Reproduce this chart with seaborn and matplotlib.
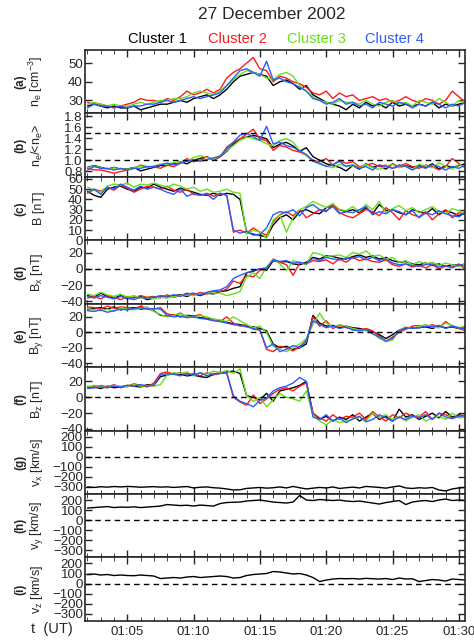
import numpy as np
import pandas as pd
import seaborn as sns
import matplotlib.pyplot as plt
from matplotlib.ticker import MultipleLocator

# time in minutes after 01:00 UT, 0.5 min steps
t = np.arange(2.0, 30.75, 0.5)
clusters = ['Cluster 1', 'Cluster 2', 'Cluster 3', 'Cluster 4']
colors = ['black', '#ff1a1a', '#66e01a', '#2a5cff']

ne_c1 = [27,28,27,26,27,26,26,27,25,26, 27,28,28,29,30,29,31,32,33,31,
         33,36,40,43,44,45,44,43,38,40, 41,39,36,38,33,31,29,28,27,25,
         28,26,29,27,28,26,29,27,28,27, 28,27,29,26,28,27,28,29]
ne_c2 = [29,28,28,27,26,27,28,29,31,30, 30,29,31,30,32,35,33,34,36,34,
         36,42,45,47,50,53,47,46,40,43, 42,40,39,37,34,33,35,31,34,32,
         33,30,31,32,30,31,29,30,32,30, 29,31,30,28,30,35,32,29]
ne_c3 = [28,29,28,27,28,27,27,28,29,28, 29,30,30,31,31,32,34,35,34,33,
         35,38,41,44,46,45,44,42,41,44, 45,43,38,35,32,30,29,28,30,29,
         29,28,30,28,27,29,30,28,29,27, 30,29,28,31,29,27,30,28]
ne_c4 = [26,28,27,27,26,27,26,27,27,28, 28,29,30,29,30,31,32,31,32,33,
         34,38,42,46,47,45,43,51,41,42, 40,39,37,35,31,30,28,29,31,28,
         29,27,28,26,29,28,27,29,28,26, 28,27,29,28,26,28,27,29]

b_c1 = [48,44,42,50,52,53,50,48,52,51, 55,52,50,48,51,49,47,45,44,46,
        44,46,45,40,8,6,5,3,15,22, 25,20,28,30,27,26,32,34,30,28,
        30,27,32,26,35,29,30,27,25,30, 28,26,31,25,29,27,24,28]
b_c2 = [46,50,48,52,49,54,51,47,50,53, 52,50,53,49,47,50,45,44,46,43,
        46,44,8,10,7,12,8,5,18,25, 28,24,30,22,26,30,28,35,27,24,
        22,26,30,28,24,32,27,20,29,25, 23,28,20,26,30,22,27,25]
b_c3 = [52,49,47,53,55,54,56,52,55,54, 56,54,52,55,53,50,52,48,50,47,
        48,50,47,46,6,10,8,2,20,25, 8,22,30,33,38,35,32,36,30,29,
        33,28,35,30,38,27,31,34,29,32, 27,30,33,28,26,31,29,27]
b_c4 = [47,50,45,52,50,55,52,49,53,50, 52,50,47,45,50,43,46,44,45,40,
        46,44,10,7,9,5,6,12,25,28, 27,30,24,32,35,30,29,33,26,28,
        27,30,33,25,28,26,30,28,25,29, 22,27,25,29,26,24,23,27]

bx_c1 = [-33,-35,-30,-34,-36,-33,-37,-35,-34,-38, -36,-34,-35,-33,-32,-34,-31,-33,-30,-31,
         -28,-27,-24,-22,-5,-3,0,-2,10,8, 9,6,5,8,14,12,16,15,13,12,
         15,17,14,16,12,14,10,8,9,6, 5,7,4,6,3,5,4,6]
bx_c2 = [-36,-34,-37,-33,-35,-38,-34,-36,-33,-35, -34,-36,-32,-35,-33,-30,-32,-29,-31,-28,
         -28,-25,-15,-18,-8,-10,-2,0,12,8, 5,-8,7,6,10,9,11,6,12,8,
         14,10,12,9,8,11,5,3,6,2, 4,1,5,0,3,2,6,-1]
bx_c3 = [-31,-33,-29,-32,-34,-31,-35,-33,-36,-35, -37,-35,-36,-34,-33,-32,-33,-31,-29,-30,
         -30,-33,-31,-28,-10,-5,-12,2,12,6, -2,10,8,5,20,18,15,16,17,14,
         20,18,22,15,17,12,14,8,10,5, 9,6,8,4,7,5,3,6]
bx_c4 = [-34,-36,-33,-35,-37,-34,-36,-38,-35,-36, -35,-33,-34,-32,-34,-31,-30,-32,-29,-27,
         -26,-22,-12,-8,-5,-2,0,1,11,9, 10,7,8,6,13,10,14,12,11,13,
         13,15,11,14,10,12,7,5,6,4, 3,5,6,2,4,1,5,3]

by_c1 = [30,31,32,30,33,29,31,32,30,31, 28,22,21,23,20,22,21,19,18,17,
         15,13,11,10,8,7,5,2,-15,-20, -18,-22,-20,-15,22,12,8,9,6,8,
         6,5,3,1,-3,-8,-3,3,5,6, 6,7,5,8,6,7,5,6]
by_c2 = [33,32,30,34,31,33,32,30,34,31, 30,32,24,22,25,20,21,23,17,16,
         14,20,12,8,10,4,3,-22,-25,-18, -20,-24,-18,-12,20,8,15,5,9,6,
         4,3,5,2,-5,-12,-6,0,4,8, 9,7,10,6,14,8,5,2]
by_c3 = [31,29,28,30,27,32,30,29,31,33, 27,23,20,22,24,21,19,22,20,17,
         16,14,20,15,10,6,8,0,-18,-22, -25,-20,-15,-8,10,25,12,7,10,8,
         5,3,2,-1,-8,-12,-10,3,7,5, 8,10,7,6,12,9,6,8]
by_c4 = [28,27,29,26,28,30,29,31,32,30, 31,30,22,20,21,19,20,18,17,15,
         14,12,10,9,7,5,3,-20,-15,-25, -22,-17,-20,-10,15,10,6,8,5,7,
         3,2,4,-2,-6,-11,-8,2,6,5, 6,8,7,9,5,8,6,4]

bz_c1 = [12,13,11,14,12,13,15,14,13,16, 15,26,28,30,29,27,28,26,25,29,
         30,32,33,30,2,0,-3,5,-5,8, 10,12,15,20,-20,-28,-24,-30,-25,-28,
         -22,-30,-25,-20,-28,-24,-30,-15,-25,-22, -28,-24,-20,-26,-18,-25,-22,-24]
bz_c2 = [14,12,15,13,16,12,14,17,15,13, 18,30,32,29,31,28,30,27,31,28,
         32,30,0,-6,-10,3,-8,-2,5,10, 12,8,14,18,-20,-26,-30,-22,-28,-24,
         -25,-20,-28,-18,-25,-30,-22,-26,-20,-24, -25,-18,-28,-20,-22,-26,-24,-22]
bz_c3 = [13,15,14,12,15,14,13,16,14,15, 14,16,28,31,30,32,27,31,29,33,
         31,34,30,36,2,-5,0,-12,-3,5, 0,-2,-5,8,-22,-30,-35,-28,-32,-30,
         -28,-25,-30,-20,-26,-22,-28,-24,-30,-25, -22,-30,-26,-24,-28,-20,-26,-25]
bz_c4 = [11,12,13,12,14,13,15,14,16,14, 15,28,30,29,27,30,28,31,27,30,
         30,31,2,-5,-8,-12,-4,-1,8,12, 14,18,25,20,-25,-28,-22,-30,-26,-32,
         -27,-24,-31,-28,-22,-26,-30,-25,-28,-24, -26,-22,-28,-20,-25,-27,-24,-23]

vx = [-300,-305,-298,-302,-296,-300,-295,-298,-303,-300, -297,-302,-299,-305,-300,-296,-310,-303,-300,-308,
      -312,-320,-330,-328,-315,-310,-305,-312,-308,-300, -310,-295,-308,-320,-312,-305,-310,-300,-315,-308,
      -302,-310,-295,-300,-305,-312,-300,-290,-310,-315, -308,-312,-305,-330,-340,-320,-310,-305]
vy = [120,125,130,135,125,130,128,132,125,130, 135,140,155,150,145,148,140,150,145,140,
      165,175,178,180,190,195,200,190,180,175, 170,180,245,200,195,205,200,195,200,190,
      185,190,180,170,160,175,185,195,155,180, 190,195,185,200,210,195,200,195]
vz = [90,95,85,90,80,85,80,78,85,80, 75,50,55,60,55,65,70,60,65,70,
      75,70,55,60,80,90,95,100,120,115, 105,95,100,85,60,20,35,45,50,48,
      50,45,52,48,45,50,40,55,45,48, 20,30,40,35,25,45,40,35]

ne = [ne_c1, ne_c2, ne_c3, ne_c4]
# normalised density n_e/<n_e>, each spacecraft divided by its own interval mean
ne_norm = [list(np.array(v) / np.mean(v)) for v in ne]

panels = [
    ('(a)', r'n$_\mathrm{e}$ [cm$^{-3}$]', ne, (23, 57), [30, 40, 50], [], '%d'),
    ('(b)', r'n$_\mathrm{e}$/<n$_\mathrm{e}$>', ne_norm, (0.7, 1.85),
     [0.8, 1.0, 1.2, 1.4, 1.6, 1.8], [1.0, 1.5], '%.1f'),
    ('(c)', 'B [nT]', [b_c1, b_c2, b_c3, b_c4], (0, 62), [0, 10, 20, 30, 40, 50, 60], [], '%d'),
    ('(d)', r'B$_\mathrm{x}$ [nT]', [bx_c1, bx_c2, bx_c3, bx_c4], (-43, 35), [-40, -20, 0, 20], [0], '%d'),
    ('(e)', r'B$_\mathrm{y}$ [nT]', [by_c1, by_c2, by_c3, by_c4], (-45, 37), [-40, -20, 0, 20], [0], '%d'),
    ('(f)', r'B$_\mathrm{z}$ [nT]', [bz_c1, bz_c2, bz_c3, bz_c4], (-42, 38), [-40, -20, 0, 20], [0], '%d'),
    ('(g)', r'v$_\mathrm{x}$ [km/s]', [vx], (-370, 260), [-300, -200, -100, 0, 100, 200], [0], '%d'),
    ('(h)', r'v$_\mathrm{y}$ [km/s]', [vy], (-370, 260), [-300, -200, -100, 0, 100, 200], [0], '%d'),
    ('(i)', r'v$_\mathrm{z}$ [km/s]', [vz], (-370, 260), [-300, -200, -100, 0, 100, 200], [0], '%d'),
]

sns.set_style('ticks')
plt.rcParams['font.family'] = ['Liberation Sans', 'DejaVu Sans']
plt.rcParams['mathtext.fontset'] = 'custom'
plt.rcParams['mathtext.rm'] = 'Liberation Sans'

fig, axes = plt.subplots(9, 1, figsize=(4.74, 6.42), dpi=100, sharex=True)
fig.subplots_adjust(left=0.179, right=0.982, top=0.922, bottom=0.033, hspace=0)

for ax, (tag, ylab, series, ylim, yticks, dashes, fmt) in zip(axes, panels):
    for i, vals in enumerate(series):
        df = pd.DataFrame({'t': t, 'v': vals})
        sns.lineplot(data=df, x='t', y='v', ax=ax, color=colors[i], lw=1.0)
    for d in dashes:
        ax.axhline(d, color='black', ls=(0, (4, 3)), lw=1.0)
    ax.set_ylim(*ylim)
    ax.set_yticks(yticks)
    ax.set_yticklabels([(fmt % y).replace('-', '\u2212') for y in yticks], fontsize=9.5)
    ax.set_xlim(1.8, 30.5)
    ax.set_xlabel('')
    ax.set_ylabel(ylab, fontsize=9)
    ax.yaxis.set_label_coords(-0.105, 0.5)
    ax.text(-0.17, 0.5, tag, transform=ax.transAxes, rotation=90, fontsize=8.5,
            fontweight='bold', ha='center', va='center')
    ax.tick_params(direction='in', top=True, right=True, length=5, width=1, pad=1.5)
    ax.tick_params(which='minor', direction='in', top=True, right=True, length=3)
    ax.xaxis.set_minor_locator(MultipleLocator(1))
    for s in ax.spines.values():
        s.set_linewidth(1.2)

axes[-1].set_xticks([5, 10, 15, 20, 25, 30])
axes[-1].set_xticklabels(['01:05', '01:10', '01:15', '01:20', '01:25', '01:30'], fontsize=9.5)
axes[-1].tick_params(axis='x', pad=4)

fig.text(0.574, 0.978, '27 December 2002', ha='center', va='center', fontsize=12.5)
for x, name, c in zip([0.333, 0.5, 0.667, 0.833], clusters, colors):
    fig.text(x, 0.94, name, ha='center', va='center', fontsize=10.5, color=c)
fig.text(0.065, 0.02, 't  (UT)', ha='left', va='center', fontsize=10.5)

fig.savefig('out.png', dpi=100)
